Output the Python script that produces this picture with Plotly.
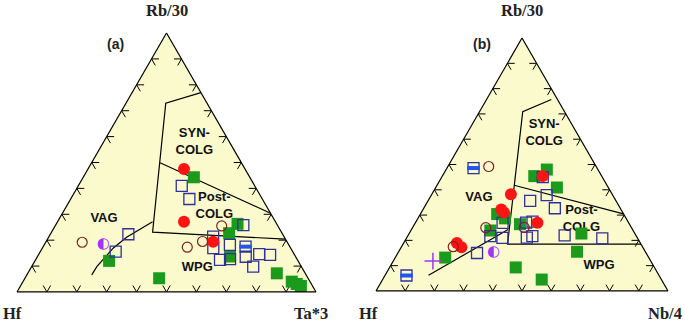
import plotly.graph_objects as go

# ---------------- data (Rb/30, Hf, Ta*3) for panel (a) ----------------
red_a = [(0.475, 0.204, 0.321), (0.271, 0.306, 0.423), (0.194, 0.247, 0.559)]
green_a = [(0.443, 0.187, 0.370), (0.263, 0.131, 0.606), (0.227, 0.177, 0.596),
           (0.137, 0.219, 0.644), (0.120, 0.632, 0.248), (0.053, 0.498, 0.449),
           (0.072, 0.095, 0.833), (0.040, 0.061, 0.899), (0.031, 0.049, 0.920),
           (0.023, 0.039, 0.938)]
blue_a = [(0.410, 0.244, 0.346), (0.359, 0.244, 0.397), (0.223, 0.516, 0.261),
          (0.156, 0.592, 0.252), (0.258, 0.114, 0.628), (0.214, 0.237, 0.549),
          (0.169, 0.259, 0.572), (0.182, 0.197, 0.621), (0.127, 0.224, 0.649),
          (0.124, 0.259, 0.617), (0.136, 0.167, 0.697), (0.098, 0.161, 0.741),
          (0.146, 0.117, 0.737), (0.143, 0.082, 0.775)]
bluehalf_a = [(0.175, 0.148, 0.677)]
brown_a = [(0.192, 0.686, 0.122), (0.255, 0.188, 0.557), (0.195, 0.282, 0.523),
           (0.173, 0.344, 0.483)]
purple_a = [(0.184, 0.619, 0.197)]
plus_a = []

# ---------------- data (Rb/30, Hf, Nb/4) for panel (b) ----------------
red_b = [(0.454, 0.202, 0.344), (0.382, 0.347, 0.271), (0.322, 0.410, 0.268),
         (0.310, 0.407, 0.283), (0.270, 0.312, 0.418), (0.190, 0.628, 0.182),
         (0.173, 0.621, 0.206)]
green_b = [(0.480, 0.175, 0.345), (0.454, 0.231, 0.315), (0.409, 0.176, 0.415),
           (0.304, 0.433, 0.263), (0.287, 0.415, 0.298), (0.264, 0.375, 0.361),
           (0.239, 0.489, 0.272), (0.227, 0.183, 0.590), (0.155, 0.234, 0.611),
           (0.132, 0.697, 0.171), (0.093, 0.475, 0.432), (0.045, 0.410, 0.545)]
blue_b = [(0.450, 0.204, 0.346), (0.379, 0.226, 0.395), (0.356, 0.294, 0.350),
          (0.327, 0.224, 0.449), (0.269, 0.432, 0.299), (0.270, 0.351, 0.379),
          (0.274, 0.327, 0.399), (0.211, 0.378, 0.411), (0.217, 0.356, 0.427),
          (0.220, 0.244, 0.536), (0.208, 0.121, 0.671), (0.217, 0.500, 0.283),
          (0.210, 0.462, 0.328), (0.150, 0.579, 0.271)]
bluehalf_b = [(0.486, 0.423, 0.091), (0.061, 0.865, 0.074)]
brown_b = [(0.492, 0.368, 0.140), (0.251, 0.367, 0.382), (0.250, 0.499, 0.251),
           (0.175, 0.648, 0.177)]
purple_b = [(0.153, 0.521, 0.326)]
plus_b = [(0.118, 0.746, 0.136)]

# ---------------- field boundaries ----------------
bound_a = [
    [(0.770, 0.000, 0.230), (0.729, 0.138, 0.133), (0.231, 0.431, 0.338), (0.204, 0.000, 0.796)],
    [(0.499, 0.272, 0.229), (0.304, 0.000, 0.696)],
    [(0.271, 0.411, 0.318), (0.211, 0.528, 0.261), (0.169, 0.594, 0.237),
     (0.098, 0.684, 0.218), (0.066, 0.717, 0.217)],
]
bound_b = [
    [(0.757, 0.021, 0.222), (0.709, 0.143, 0.148), (0.185, 0.457, 0.358), (0.185, 0.000, 0.815)],
    [(0.418, 0.318, 0.264), (0.305, 0.000, 0.695)],
    [(0.243, 0.426, 0.331), (0.062, 0.789, 0.149)],
]

field_names = ["SYN-<br>COLG", "Post-<br>COLG", "VAG", "WPG"]
field_pos_a = [(0.577, 0.118, 0.304), (0.333, 0.174, 0.494), (0.282, 0.568, 0.150), (0.094, 0.350, 0.556)]
field_pos_b = [(0.625, 0.112, 0.264), (0.285, 0.154, 0.561), (0.369, 0.463, 0.168), (0.098, 0.187, 0.715)]

tick_values = [i / 10 for i in range(1, 10)]

BG = "#fafacc"
RED = "#ff1414"
GREEN = "#1c9a1c"
NAVY = "#30309a"
BLUE = "#2255ee"
BROWN = "#7e2222"
PURPLE = "#a033ff"

fig = go.Figure()


def abc(pts):
    return dict(a=[p[0] for p in pts], b=[p[1] for p in pts], c=[p[2] for p in pts])


def add(pts, subplot, **kw):
    if not pts:
        return
    fig.add_trace(go.Scatterternary(**abc(pts), subplot=subplot, cliponaxis=False,
                                    hoverinfo="skip", showlegend=False, **kw))


def tick_path(d=0.025):
    A, B, C = [], [], []
    for t in tick_values:
        segs = [
            [(d, 1 - t - d, t), (0, 1 - t, t), (d, 1 - t, t - d)],        # bottom edge  V
            [(t, 1 - t - d, d), (t, 1 - t, 0), (t - d, 1 - t, d)],        # left edge   <
            [(t, d, 1 - t - d), (t, 0, 1 - t), (t - d, d, 1 - t)],        # right edge  >
        ]
        for s in segs:
            for p in s:
                A.append(p[0]); B.append(p[1]); C.append(p[2])
            A.append(None); B.append(None); C.append(None)
    return A, B, C


panels = [
    ("ternary", bound_a, field_pos_a, red_a, green_a, blue_a, bluehalf_a, brown_a, purple_a, plus_a),
    ("ternary2", bound_b, field_pos_b, red_b, green_b, blue_b, bluehalf_b, brown_b, purple_b, plus_b),
]

for (sp, bounds, fpos, red, green, blue, bhalf, brown, purple, plus) in panels:
    A, B, C = tick_path()
    fig.add_trace(go.Scatterternary(a=A, b=B, c=C, subplot=sp, mode="lines",
                                    line=dict(color="black", width=1), cliponaxis=False,
                                    hoverinfo="skip", showlegend=False))
    for ln in bounds:
        add(ln, sp, mode="lines", line=dict(color="black", width=1.2))
    add(fpos, sp, mode="text", text=field_names,
        textfont=dict(family="Liberation Sans", size=13, color="#111111"),
        texttemplate="<b>%{text}</b>")
    add(green, sp, mode="markers", marker=dict(symbol="square", size=12, color=GREEN, line=dict(width=0)))
    add(blue, sp, mode="markers", marker=dict(symbol="square-open", size=11, color=NAVY, line=dict(width=1.3)))
    add(bhalf, sp, mode="markers", marker=dict(symbol="square-open", size=11, color=NAVY, line=dict(width=1.3)))
    add(bhalf, sp, mode="markers", marker=dict(symbol="line-ew", size=9, color=BLUE, line=dict(width=4, color=BLUE)))
    add(red, sp, mode="markers", marker=dict(symbol="circle", size=12, color=RED, line=dict(width=0)))
    add(brown, sp, mode="markers", marker=dict(symbol="circle-open", size=10, color=BROWN, line=dict(width=1.2)))
    add(purple, sp, mode="text", text=["\u25d0"] * len(purple),
        textfont=dict(family="DejaVu Sans", size=15, color=PURPLE))
    add(plus, sp, mode="markers", marker=dict(symbol="cross-thin-open", size=12, color=PURPLE, line=dict(width=1.5, color=PURPLE)))


def tern(domx, domy):
    ax = dict(showticklabels=False, ticks="", showgrid=False, showline=True,
              linecolor="black", linewidth=1.2, title=dict(text=""), min=0)
    return dict(domain=dict(x=domx, y=domy), bgcolor=BG, sum=1,
                aaxis=dict(ax), baxis=dict(ax), caxis=dict(ax))


W, H = 685, 325
fig.update_layout(
    width=W, height=H, autosize=False,
    margin=dict(l=0, r=0, t=0, b=0),
    paper_bgcolor="white",
    ternary=tern([17 / W, 316 / W], [(H - 292) / H, (H - 33) / H]),
    ternary2=tern([376 / W, 668 / W], [(H - 291) / H, (H - 38) / H]),
)

serif = dict(family="Liberation Serif", size=16.5, color="#222222")
sans = dict(family="Liberation Sans", size=14, color="#222222")
titles = [
    ("<b>Rb/30</b>", 167, 10, serif), ("<b>Hf</b>", 12.5, 313.5, serif), ("<b>Ta*3</b>", 311, 313.5, serif),
    ("<b>Rb/30</b>", 522, 10, serif), ("<b>Hf</b>", 368, 313.5, serif), ("<b>Nb/4</b>", 665, 313.5, serif),
    ("<b>(a)</b>", 115.7, 44.3, sans), ("<b>(b)</b>", 481.5, 44.3, sans),
]
for txt, x, y, f in titles:
    fig.add_annotation(text=txt, x=x / W, y=1 - y / H, xref="paper", yref="paper",
                       xanchor="center", yanchor="middle", showarrow=False, font=f)

fig.write_html("out.html", config={"displayModeBar": False},
               post_script="document.body.style.margin='0';document.body.style.padding='0';")
